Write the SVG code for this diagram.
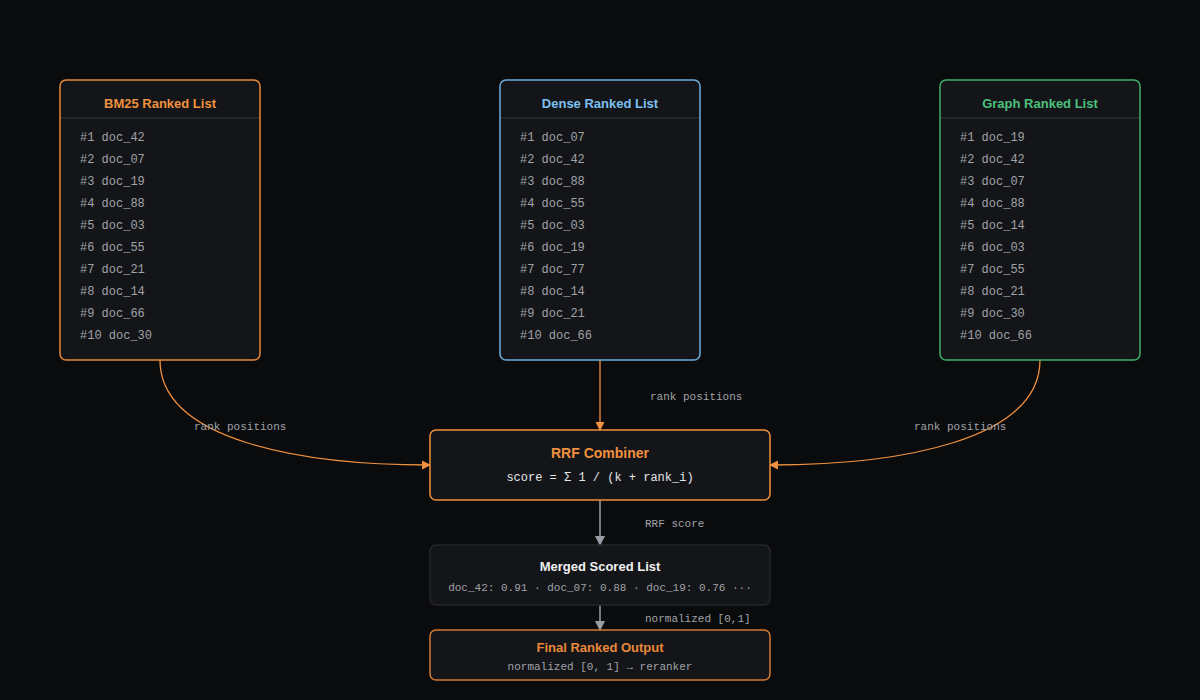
<svg xmlns="http://www.w3.org/2000/svg" width="1200" height="700" viewBox="0 0 1200 700">
<defs>
<style>
.box{fill:#141518;stroke-width:1.5}
.title{font-family:"Liberation Sans",Arial,sans-serif;font-weight:bold;font-size:13px;text-anchor:middle}
.mono{font-family:"Liberation Mono","DejaVu Sans Mono",monospace;font-size:12px;fill:#a0a3a8}
.lbl{font-family:"Liberation Mono","DejaVu Sans Mono",monospace;font-size:11px;fill:#a0a3a8}
.sep{stroke:#2a2c30;stroke-width:1.5}
</style>
<marker id="ao" viewBox="0 0 10 10" refX="9" refY="5" markerWidth="7" markerHeight="7" orient="auto"><path d="M0,0 L10,5 L0,10 z" fill="#f0913f"/></marker>
<marker id="ag" viewBox="0 0 10 10" refX="9" refY="5" markerWidth="7" markerHeight="7" orient="auto"><path d="M0,0 L10,5 L0,10 z" fill="#9a9ea4"/></marker>
</defs>
<rect width="1200" height="700" fill="#0a0b0d"/>
<g id="connectors" fill="none">
<path d="M160,360 C160,440 300,465 430,465" stroke="#f0913f" stroke-width="1.3" marker-end="url(#ao)"/>
<path d="M600,360 L600,430" stroke="#f0913f" stroke-width="1.3" marker-end="url(#ao)"/>
<path d="M1040,360 C1040,440 900,465 770,465" stroke="#f0913f" stroke-width="1.3" marker-end="url(#ao)"/>
<path d="M600,500 L600,545" stroke="#9a9ea4" stroke-width="1.5" marker-end="url(#ag)"/>
<path d="M600,605 L600,630" stroke="#9a9ea4" stroke-width="1.5" marker-end="url(#ag)"/>
<text class="lbl" x="194" y="430">rank positions</text>
<text class="lbl" x="650" y="400">rank positions</text>
<text class="lbl" x="914" y="430">rank positions</text>
<text class="lbl" x="645" y="527">RRF score</text>
<text class="lbl" x="645" y="622">normalized [0,1]</text>
</g>
<g id="bm25">
<rect class="box" x="60" y="80" width="200" height="280" rx="6" stroke="#e8883a"/>
<line class="sep" x1="61" y1="118" x2="259" y2="118"/>
<text class="title" x="160" y="108" fill="#f0913f">BM25 Ranked List</text>
<text class="mono" x="80" y="141">#1 doc_42</text><text class="mono" x="80" y="163">#2 doc_07</text><text class="mono" x="80" y="185">#3 doc_19</text><text class="mono" x="80" y="207">#4 doc_88</text><text class="mono" x="80" y="229">#5 doc_03</text><text class="mono" x="80" y="251">#6 doc_55</text><text class="mono" x="80" y="273">#7 doc_21</text><text class="mono" x="80" y="295">#8 doc_14</text><text class="mono" x="80" y="317">#9 doc_66</text><text class="mono" x="80" y="339">#10 doc_30</text>
</g>
<g id="dense">
<rect class="box" x="500" y="80" width="200" height="280" rx="6" stroke="#6aaee0"/>
<line class="sep" x1="501" y1="118" x2="699" y2="118"/>
<text class="title" x="600" y="108" fill="#7cc0f0">Dense Ranked List</text>
<text class="mono" x="520" y="141">#1 doc_07</text><text class="mono" x="520" y="163">#2 doc_42</text><text class="mono" x="520" y="185">#3 doc_88</text><text class="mono" x="520" y="207">#4 doc_55</text><text class="mono" x="520" y="229">#5 doc_03</text><text class="mono" x="520" y="251">#6 doc_19</text><text class="mono" x="520" y="273">#7 doc_77</text><text class="mono" x="520" y="295">#8 doc_14</text><text class="mono" x="520" y="317">#9 doc_21</text><text class="mono" x="520" y="339">#10 doc_66</text>
</g>
<g id="graph">
<rect class="box" x="940" y="80" width="200" height="280" rx="6" stroke="#3fae6e"/>
<line class="sep" x1="941" y1="118" x2="1139" y2="118"/>
<text class="title" x="1040" y="108" fill="#4cc07c">Graph Ranked List</text>
<text class="mono" x="960" y="141">#1 doc_19</text><text class="mono" x="960" y="163">#2 doc_42</text><text class="mono" x="960" y="185">#3 doc_07</text><text class="mono" x="960" y="207">#4 doc_88</text><text class="mono" x="960" y="229">#5 doc_14</text><text class="mono" x="960" y="251">#6 doc_03</text><text class="mono" x="960" y="273">#7 doc_55</text><text class="mono" x="960" y="295">#8 doc_21</text><text class="mono" x="960" y="317">#9 doc_30</text><text class="mono" x="960" y="339">#10 doc_66</text>
</g>
<g id="rrf">
<rect class="box" x="430" y="430" width="340" height="70" rx="6" stroke="#f0913f" stroke-width="2"/>
<text class="title" x="600" y="458" fill="#f0913f" style="font-size:14px">RRF Combiner</text>
<text class="mono" x="600" y="481" text-anchor="middle" fill="#e6e8eb" style="fill:#e6e8eb">score = Σ 1 / (k + rank_i)</text>
</g>
<g id="merged">
<rect class="box" x="430" y="545" width="340" height="60" rx="6" stroke="#24262a"/>
<text class="title" x="600" y="571" fill="#f0f1f3">Merged Scored List</text>
<text class="lbl" x="600" y="591" text-anchor="middle">doc_42: 0.91 · doc_07: 0.88 · doc_19: 0.76 ···</text>
</g>
<g id="final">
<rect class="box" x="430" y="630" width="340" height="50" rx="6" stroke="#d47a30"/>
<text class="title" x="600" y="652" fill="#e8883a">Final Ranked Output</text>
<text class="lbl" x="600" y="670" text-anchor="middle">normalized [0, 1] → reranker</text>
</g>
</svg>
